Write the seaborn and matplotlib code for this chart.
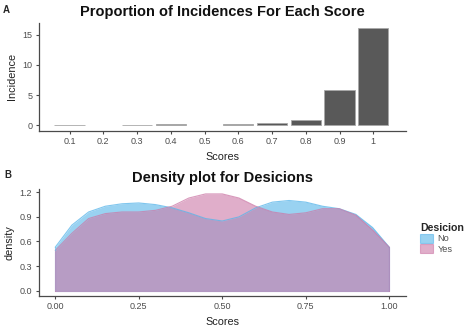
import matplotlib
matplotlib.use("Agg")
import matplotlib.pyplot as plt
from matplotlib.patches import Patch
import seaborn as sns
import pandas as pd

# --- Panel A: incidence count per score ---
score_labels = ["0.1", "0.2", "0.3", "0.4", "0.5", "0.6", "0.7", "0.8", "0.9", "1"]
incidence = [0.06, 0.0, 0.06, 0.25, 0.0, 0.18, 0.35, 0.95, 5.9, 16.0]

# --- Panel B: density curves for each decision ---
density_x = [0.00, 0.05, 0.10, 0.15, 0.20, 0.25, 0.30, 0.35, 0.40, 0.45, 0.50,
             0.55, 0.60, 0.65, 0.70, 0.75, 0.80, 0.85, 0.90, 0.95, 1.00]
density_no = [0.53, 0.80, 0.96, 1.03, 1.06, 1.07, 1.05, 1.01, 0.95, 0.88, 0.85,
              0.90, 1.01, 1.08, 1.10, 1.08, 1.03, 1.00, 0.93, 0.77, 0.53]
density_yes = [0.49, 0.70, 0.88, 0.94, 0.96, 0.96, 0.98, 1.03, 1.13, 1.18, 1.18,
               1.13, 1.03, 0.96, 0.93, 0.95, 1.00, 1.00, 0.92, 0.74, 0.53]
decisions = ["No", "Yes"]
decision_colors = {"No": "#56B4E9", "Yes": "#CC79A7"}

sns.set_theme(style="ticks")
plt.rcParams["font.family"] = ["Liberation Sans", "DejaVu Sans"]
plt.rcParams["axes.edgecolor"] = "#4a4a4a"
plt.rcParams["xtick.color"] = "#4a4a4a"
plt.rcParams["ytick.color"] = "#4a4a4a"

W, H = 474, 331
fig = plt.figure(figsize=(W / 100, H / 100), dpi=100)

def frac_axes(x0, y0, x1, y1):
    return fig.add_axes([x0 / W, 1 - y1 / H, (x1 - x0) / W, (y1 - y0) / H])

tick_kw = dict(labelsize=6.5, labelcolor="#4d4d4d", length=2.5, width=0.8, pad=2)

# Panel A
ax1 = frac_axes(38.5, 23, 406, 130.7)
bars = pd.DataFrame({"Scores": score_labels, "Incidence": incidence})
sns.barplot(data=bars, x="Scores", y="Incidence", order=score_labels,
            color="#595959", saturation=1, width=0.9,
            edgecolor="#a8a8a8", linewidth=0.6, ax=ax1)
# empty categories get no outline
for patch in ax1.patches:
    if patch.get_height() == 0:
        patch.set_linewidth(0)
ax1.set_xlim(-0.92, 9.97)
ax1.set_ylim(-0.86, 16.9)
ax1.set_yticks([0, 5, 10, 15])
ax1.tick_params(**tick_kw)
ax1.set_xlabel("Scores", fontsize=7.8, color="#222222", labelpad=4)
ax1.set_ylabel("Incidence", fontsize=7.8, color="#222222", labelpad=4)
ax1.set_title("Proportion of Incidences For Each Score", fontsize=10.5,
              fontweight="bold", color="#111111", pad=5)
sns.despine(ax=ax1)
for s in ("left", "bottom"):
    ax1.spines[s].set_linewidth(0.9)

# Panel B
ax2 = frac_axes(38.5, 189, 406, 295.7)
dens = pd.DataFrame({
    "Scores": density_x * 2,
    "density": density_no + density_yes,
    "Desicion": ["No"] * len(density_x) + ["Yes"] * len(density_x),
})
for name in decisions:
    sub = dens[dens["Desicion"] == name]
    ax2.fill_between(sub["Scores"], 0, sub["density"],
                     color=decision_colors[name], alpha=0.6, linewidth=0)
sns.lineplot(data=dens, x="Scores", y="density", hue="Desicion",
             palette=decision_colors, linewidth=0.8, alpha=0.75,
             legend=False, ax=ax2)
for name in decisions:
    sub = dens[dens["Desicion"] == name]
    ax2.plot([0, 1], [0, 0], color=decision_colors[name], lw=0.8, alpha=0.6)
    ax2.plot([0, 0], [0, sub["density"].iloc[0]], color=decision_colors[name], lw=0.8, alpha=0.6)
    ax2.plot([1, 1], [0, sub["density"].iloc[-1]], color=decision_colors[name], lw=0.8, alpha=0.6)
ax2.set_xlim(-0.05, 1.05)
ax2.set_ylim(-0.061, 1.24)
ax2.set_xticks([0, 0.25, 0.5, 0.75, 1.0])
ax2.set_xticklabels(["0.00", "0.25", "0.50", "0.75", "1.00"])
ax2.set_yticks([0, 0.3, 0.6, 0.9, 1.2])
ax2.set_yticklabels(["0.0", "0.3", "0.6", "0.9", "1.2"])
ax2.tick_params(**tick_kw)
ax2.set_xlabel("Scores", fontsize=7.8, color="#222222", labelpad=4)
ax2.set_ylabel("density", fontsize=7.8, color="#222222", labelpad=4)
ax2.set_title("Density plot for Desicions", fontsize=10.5,
              fontweight="bold", color="#111111", pad=5)
sns.despine(ax=ax2)
for s in ("left", "bottom"):
    ax2.spines[s].set_linewidth(0.9)

handles = [Patch(facecolor=decision_colors[n], edgecolor=decision_colors[n],
                 alpha=0.6, linewidth=0.8, label=n) for n in decisions]
leg = ax2.legend(handles=handles, title="Desicion", loc="upper left",
                 bbox_to_anchor=(420 / W, 1 - 223 / H), bbox_transform=fig.transFigure,
                 frameon=False, fontsize=6.6, title_fontsize=7.6,
                 handlelength=1.4, handleheight=1.1, handletextpad=0.5,
                 labelspacing=0.1, borderaxespad=0, borderpad=0)
leg.get_title().set_fontweight("bold")
leg._legend_box.align = "left"
for t in leg.get_texts():
    t.set_color("#4d4d4d")

fig.text(3 / W, 1 - 10 / H, "A", fontsize=7, fontweight="bold", va="center", ha="left")
fig.text(4 / W, 1 - 175 / H, "B", fontsize=7, fontweight="bold", va="center", ha="left")

fig.savefig("out.png", dpi=100)
